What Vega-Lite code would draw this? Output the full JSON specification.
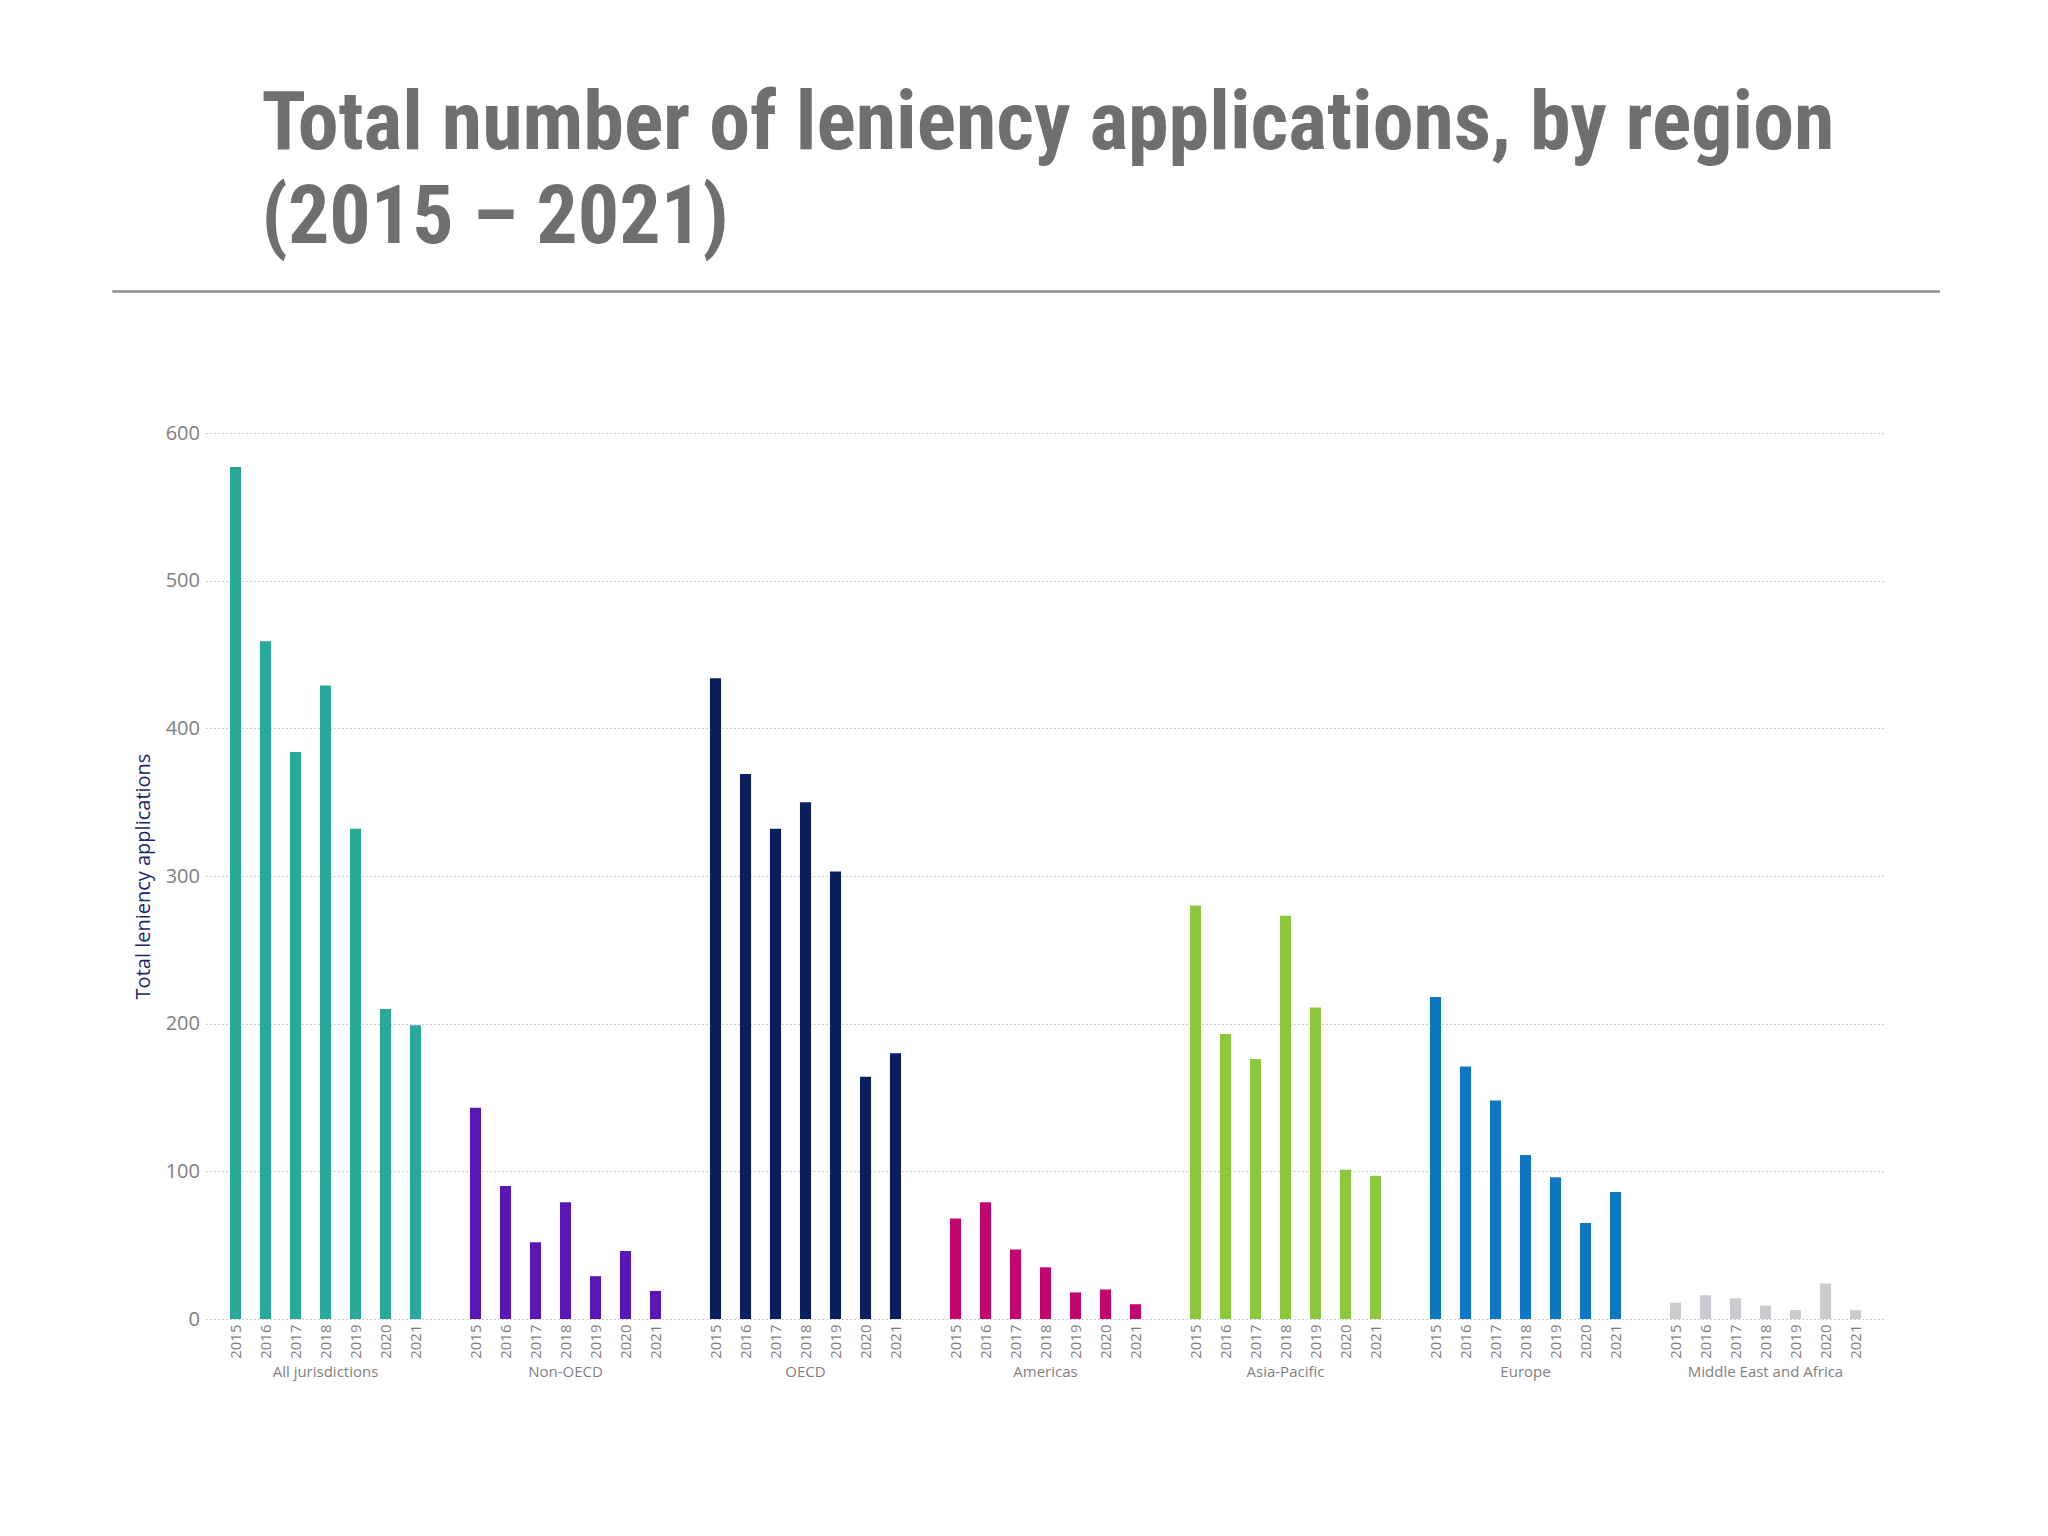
{
  "$schema": "https://vega.github.io/schema/vega-lite/v6.json",
  "background": "white",
  "padding": {"left": 112, "top": 82, "right": 20, "bottom": 20},
  "title": {
    "text": ["Total number of leniency applications, by region", "(2015 – 2021)"],
    "anchor": "start",
    "frame": "bounds",
    "dx": 149,
    "offset": 25,
    "font": "Liberation Sans Narrow, Arial Narrow, Roboto Condensed, sans-serif",
    "fontSize": 82,
    "fontWeight": "bold",
    "color": "#6f6f6f",
    "lineHeight": 94
  },
  "spacing": 125,
  "center": true,
  "vconcat": [
    {
      "width": 1826,
      "height": 1,
      "data": {"values": [{}]},
      "mark": {"type": "text", "text": ""},
      "title": {"text": " ", "orient": "right", "offset": 28, "fontSize": 10},
      "view": {"stroke": "#8c8c8c", "strokeWidth": 1.5}
    },
    {
      "data": {
        "values": [
          {"region": "All jurisdictions", "year": "2015", "applications": 577},
          {"region": "All jurisdictions", "year": "2016", "applications": 459},
          {"region": "All jurisdictions", "year": "2017", "applications": 384},
          {"region": "All jurisdictions", "year": "2018", "applications": 429},
          {"region": "All jurisdictions", "year": "2019", "applications": 332},
          {"region": "All jurisdictions", "year": "2020", "applications": 210},
          {"region": "All jurisdictions", "year": "2021", "applications": 199},
          {"region": "Non-OECD", "year": "2015", "applications": 143},
          {"region": "Non-OECD", "year": "2016", "applications": 90},
          {"region": "Non-OECD", "year": "2017", "applications": 52},
          {"region": "Non-OECD", "year": "2018", "applications": 79},
          {"region": "Non-OECD", "year": "2019", "applications": 29},
          {"region": "Non-OECD", "year": "2020", "applications": 46},
          {"region": "Non-OECD", "year": "2021", "applications": 19},
          {"region": "OECD", "year": "2015", "applications": 434},
          {"region": "OECD", "year": "2016", "applications": 369},
          {"region": "OECD", "year": "2017", "applications": 332},
          {"region": "OECD", "year": "2018", "applications": 350},
          {"region": "OECD", "year": "2019", "applications": 303},
          {"region": "OECD", "year": "2020", "applications": 164},
          {"region": "OECD", "year": "2021", "applications": 180},
          {"region": "Americas", "year": "2015", "applications": 68},
          {"region": "Americas", "year": "2016", "applications": 79},
          {"region": "Americas", "year": "2017", "applications": 47},
          {"region": "Americas", "year": "2018", "applications": 35},
          {"region": "Americas", "year": "2019", "applications": 18},
          {"region": "Americas", "year": "2020", "applications": 20},
          {"region": "Americas", "year": "2021", "applications": 10},
          {"region": "Asia-Pacific", "year": "2015", "applications": 280},
          {"region": "Asia-Pacific", "year": "2016", "applications": 193},
          {"region": "Asia-Pacific", "year": "2017", "applications": 176},
          {"region": "Asia-Pacific", "year": "2018", "applications": 273},
          {"region": "Asia-Pacific", "year": "2019", "applications": 211},
          {"region": "Asia-Pacific", "year": "2020", "applications": 101},
          {"region": "Asia-Pacific", "year": "2021", "applications": 97},
          {"region": "Europe", "year": "2015", "applications": 218},
          {"region": "Europe", "year": "2016", "applications": 171},
          {"region": "Europe", "year": "2017", "applications": 148},
          {"region": "Europe", "year": "2018", "applications": 111},
          {"region": "Europe", "year": "2019", "applications": 96},
          {"region": "Europe", "year": "2020", "applications": 65},
          {"region": "Europe", "year": "2021", "applications": 86},
          {"region": "Middle East and Africa", "year": "2015", "applications": 11},
          {"region": "Middle East and Africa", "year": "2016", "applications": 16},
          {"region": "Middle East and Africa", "year": "2017", "applications": 14},
          {"region": "Middle East and Africa", "year": "2018", "applications": 9},
          {"region": "Middle East and Africa", "year": "2019", "applications": 6},
          {"region": "Middle East and Africa", "year": "2020", "applications": 24},
          {"region": "Middle East and Africa", "year": "2021", "applications": 6}
        ]
      },
      "facet": {
        "column": {
          "field": "region",
          "type": "nominal",
          "sort": ["All jurisdictions", "Non-OECD", "OECD", "Americas", "Asia-Pacific", "Europe", "Middle East and Africa"],
          "title": null,
          "header": {
            "labelOrient": "bottom",
            "labelFont": "Open Sans",
            "labelFontSize": 15,
            "labelColor": "#7f7f7f",
            "labelPadding": 7
          }
        }
      },
      "spacing": 0,
      "spec": {
        "width": 240,
        "height": 886,
        "mark": {"type": "bar"},
        "encoding": {
          "x": {
            "field": "year",
            "type": "ordinal",
            "scale": {"paddingInner": 0.63, "paddingOuter": 0.815},
            "axis": {
              "title": null,
              "domain": false,
              "ticks": false,
              "labelAngle": -90,
              "labelFont": "Open Sans",
              "labelFontSize": 15,
              "labelColor": "#7f7f7f",
              "labelPadding": 5
            }
          },
          "y": {
            "field": "applications",
            "type": "quantitative",
            "scale": {"domain": [0, 600], "nice": false},
            "axis": {
              "title": "Total leniency applications",
              "titleFont": "Open Sans",
              "titleFontSize": 20,
              "titleFontWeight": "normal",
              "titleColor": "#16286b",
              "titlePadding": 12,
              "values": [0, 100, 200, 300, 400, 500, 600],
              "domain": false,
              "ticks": false,
              "labelFont": "Open Sans",
              "labelFontSize": 20,
              "labelColor": "#808080",
              "labelPadding": 6,
              "gridColor": "#cfcfcf",
              "gridDash": [2, 2],
              "gridWidth": 1
            }
          },
          "color": {
            "field": "region",
            "type": "nominal",
            "scale": {
              "domain": ["All jurisdictions", "Non-OECD", "OECD", "Americas", "Asia-Pacific", "Europe", "Middle East and Africa"],
              "range": ["#2aa99b", "#5a18b3", "#0b1f5c", "#c0076f", "#8dc63f", "#1176c1", "#cbcbcf"]
            },
            "legend": null
          }
        }
      }
    }
  ],
  "config": {"view": {"stroke": null}, "font": "Open Sans"}
}
